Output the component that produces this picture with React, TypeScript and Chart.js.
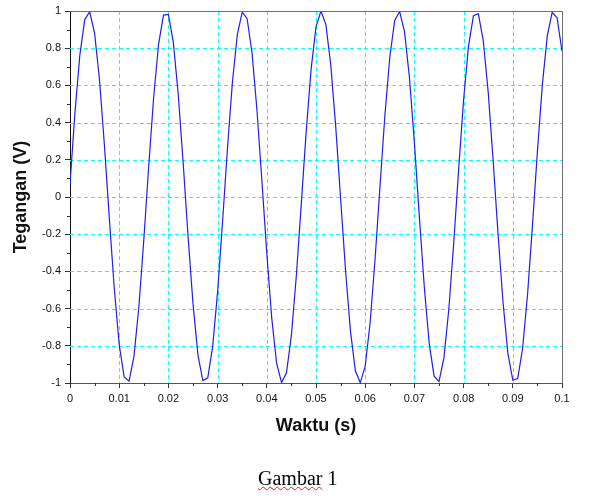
import { useEffect, useRef } from "react"
import Chart from "chart.js/auto"

const waktu = [
  0, 0.001, 0.002, 0.003, 0.004, 0.005, 0.006, 0.007, 0.008, 0.009,
  0.01, 0.011, 0.012, 0.013, 0.014, 0.015, 0.016, 0.017, 0.018, 0.019,
  0.02, 0.021, 0.022, 0.023, 0.024, 0.025, 0.026, 0.027, 0.028, 0.029,
  0.03, 0.031, 0.032, 0.033, 0.034, 0.035, 0.036, 0.037, 0.038, 0.039,
  0.04, 0.041, 0.042, 0.043, 0.044, 0.045, 0.046, 0.047, 0.048, 0.049,
  0.05, 0.051, 0.052, 0.053, 0.054, 0.055, 0.056, 0.057, 0.058, 0.059,
  0.06, 0.061, 0.062, 0.063, 0.064, 0.065, 0.066, 0.067, 0.068, 0.069,
  0.07, 0.071, 0.072, 0.073, 0.074, 0.075, 0.076, 0.077, 0.078, 0.079,
  0.08, 0.081, 0.082, 0.083, 0.084, 0.085, 0.086, 0.087, 0.088, 0.089,
  0.09, 0.091, 0.092, 0.093, 0.094, 0.095, 0.096, 0.097, 0.098, 0.099,
  0.1,
]

const tegangan = [
  0.07, 0.452, 0.763, 0.954, 0.996, 0.881, 0.629, 0.277, -0.117, -0.492,
  -0.793, -0.967, -0.99, -0.857, -0.59, -0.231, 0.165, 0.535, 0.821, 0.978,
  0.982, 0.831, 0.551, 0.184, -0.212, -0.574, -0.849, -0.987, -0.972, -0.803,
  -0.51, -0.136, 0.259, 0.614, 0.872, 0.994, 0.959, 0.774, 0.468, 0.089,
  -0.304, -0.65, -0.895, -0.998, -0.945, -0.743, -0.425, -0.041, 0.35, 0.686,
  0.915, 1.0, 0.928, 0.711, 0.381, -0.007, -0.394, -0.72, -0.934, -0.999,
  -0.909, -0.676, -0.336, 0.055, 0.438, 0.753, 0.949, 0.997, 0.888, 0.64,
  0.291, -0.103, -0.479, -0.784, -0.963, -0.992, -0.865, -0.602, -0.245, 0.151,
  0.523, 0.813, 0.975, 0.985, 0.84, 0.564, 0.198, -0.198, -0.562, -0.841,
  -0.985, -0.976, -0.812, -0.523, -0.151, 0.245, 0.602, 0.865, 0.992, 0.964,
  0.784,
]

const xTicks = [0, 0.01, 0.02, 0.03, 0.04, 0.05, 0.06, 0.07, 0.08, 0.09, 0.1]
const xTickLabels = ["0", "0.01", "0.02", "0.03", "0.04", "0.05", "0.06", "0.07", "0.08", "0.09", "0.1"]
const yTicks = [-1, -0.8, -0.6, -0.4, -0.2, 0, 0.2, 0.4, 0.6, 0.8, 1]
const yTickLabels = ["-1", "-0.8", "-0.6", "-0.4", "-0.2", "0", "0.2", "0.4", "0.6", "0.8", "1"]

const axisColor = "#333"
const frameColor = "#6e6e6e"
const gridColor = "#00ffff"
const sans = "'Liberation Sans', Arial, sans-serif"

// dashed cyan grid under the line
const gridPlugin = {
  id: "dashGrid",
  beforeDatasetsDraw(chart: any) {
    const { ctx, chartArea } = chart
    const xs = chart.scales.x
    const ys = chart.scales.y
    ctx.save()
    ctx.lineWidth = 1
    ctx.strokeStyle = gridColor
    ctx.setLineDash([4, 3])
    ctx.beginPath()
    for (let i = 1; i < xTicks.length - 1; i++) {
      const px = Math.round(xs.getPixelForValue(xTicks[i])) + 0.5
      ctx.moveTo(px, chartArea.top)
      ctx.lineTo(px, chartArea.bottom)
    }
    for (let i = 1; i < yTicks.length - 1; i++) {
      const py = Math.round(ys.getPixelForValue(yTicks[i])) + 0.5
      ctx.moveTo(chartArea.left, py)
      ctx.lineTo(chartArea.right, py)
    }
    ctx.stroke()
    ctx.restore()
  },
}

// half-step ticks and the top/right frame
const framePlugin = {
  id: "frame",
  afterDraw(chart: any) {
    const { ctx, chartArea } = chart
    const xs = chart.scales.x
    const ys = chart.scales.y
    ctx.save()
    ctx.lineWidth = 1
    ctx.strokeStyle = axisColor
    ctx.beginPath()
    for (let i = 0; i < xTicks.length - 1; i++) {
      const px = Math.round(xs.getPixelForValue((xTicks[i] + xTicks[i + 1]) / 2)) + 0.5
      ctx.moveTo(px, chartArea.bottom)
      ctx.lineTo(px, chartArea.bottom + 3)
    }
    for (let i = 0; i < yTicks.length - 1; i++) {
      const py = Math.round(ys.getPixelForValue((yTicks[i] + yTicks[i + 1]) / 2)) + 0.5
      ctx.moveTo(chartArea.left, py)
      ctx.lineTo(chartArea.left - 3, py)
    }
    ctx.stroke()
    ctx.strokeStyle = frameColor
    ctx.beginPath()
    ctx.moveTo(chartArea.left, chartArea.top + 0.5)
    ctx.lineTo(chartArea.right + 0.5, chartArea.top + 0.5)
    ctx.lineTo(chartArea.right + 0.5, chartArea.bottom)
    ctx.stroke()
    ctx.restore()
  },
}

export default function App() {
  const chartRef = useRef<HTMLCanvasElement>(null)
  const chartInstance = useRef<Chart | null>(null)

  useEffect(() => {
    if (!chartRef.current) return
    if (chartInstance.current) {
      chartInstance.current.destroy()
    }
    const ctx = chartRef.current.getContext("2d")
    if (!ctx) return

    chartInstance.current = new Chart(ctx, {
      type: "line",
      data: {
        datasets: [
          {
            data: waktu.map((t, i) => ({ x: t, y: tegangan[i] })),
            borderColor: "#1f1fe6",
            borderWidth: 1.2,
            pointRadius: 0,
            tension: 0,
            fill: false,
          },
        ],
      },
      options: {
        responsive: false,
        animation: false,
        devicePixelRatio: 1,
        layout: { padding: { left: 0, top: 11, right: 30, bottom: 61 } },
        plugins: {
          legend: { display: false },
          tooltip: { enabled: false },
        },
        scales: {
          x: {
            type: "linear",
            min: 0,
            max: 0.1,
            afterBuildTicks: (scale: any) => {
              scale.ticks = xTicks.map((v) => ({ value: v }))
            },
            afterFit: (scale: any) => {
              scale.height = 54
            },
            ticks: {
              autoSkip: false,
              maxRotation: 0,
              padding: 4,
              color: "#111",
              font: { family: sans, size: 11 },
              callback: (_v: any, i: number) => xTickLabels[i],
            },
            grid: {
              drawOnChartArea: false,
              drawTicks: true,
              tickLength: 5,
              tickColor: axisColor,
              tickBorderDash: [],
            },
            border: { display: true, color: "#555", width: 1 },
            title: {
              display: true,
              text: "Waktu (s)",
              color: "#111",
              padding: { top: 0, bottom: 0 },
              font: { family: sans, size: 18, weight: "bold" },
            },
          },
          y: {
            type: "linear",
            min: -1,
            max: 1,
            afterBuildTicks: (scale: any) => {
              scale.ticks = yTicks.map((v) => ({ value: v }))
            },
            afterFit: (scale: any) => {
              scale.width = 70
            },
            ticks: {
              autoSkip: false,
              padding: 4,
              color: "#111",
              font: { family: sans, size: 11 },
              callback: (_v: any, i: number) => yTickLabels[i],
            },
            grid: {
              drawOnChartArea: false,
              drawTicks: true,
              tickLength: 5,
              tickColor: axisColor,
              tickBorderDash: [],
            },
            border: { display: true, color: "#111", width: 1 },
            title: {
              display: true,
              text: "Tegangan (V)",
              color: "#111",
              padding: { top: 10, bottom: 0 },
              font: { family: sans, size: 18, weight: "bold" },
            },
          },
        },
      },
      plugins: [gridPlugin, framePlugin],
    })

    return () => {
      if (chartInstance.current) {
        chartInstance.current.destroy()
        chartInstance.current = null
      }
    }
  }, [])

  return (
    <div
      style={{
        position: "fixed",
        left: 0,
        top: 0,
        width: 592,
        height: 498,
        background: "#fff",
        overflow: "hidden",
      }}
    >
      <canvas ref={chartRef} width={592} height={498} style={{ width: 592, height: 498, display: "block" }} />
      <div
        style={{
          position: "absolute",
          left: 258,
          top: 468,
          fontFamily: "'Liberation Serif', 'Times New Roman', serif",
          fontSize: 20,
          lineHeight: "20px",
          whiteSpace: "nowrap",
          color: "#000",
        }}
      >
        <span
          style={{
            textDecorationLine: "underline",
            textDecorationStyle: "wavy",
            textDecorationColor: "#e02020",
            textDecorationThickness: "1px",
            textDecorationSkipInk: "none",
          }}
        >
          Gambar
        </span>{" "}
        1
      </div>
    </div>
  )
}
